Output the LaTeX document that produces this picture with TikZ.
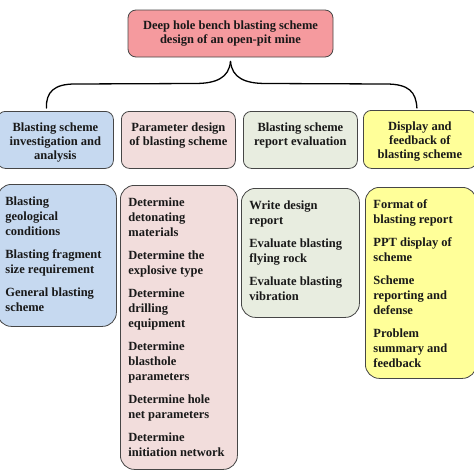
\documentclass[tikz,border=0pt]{standalone}
\usepackage{fontspec}
\setmainfont{Liberation Serif}
\usetikzlibrary{arrows}
\definecolor{titlered}{RGB}{245,154,158}
\definecolor{stepblue}{RGB}{198,217,240}
\definecolor{steppink}{RGB}{242,221,220}
\definecolor{stepgreen}{RGB}{232,237,224}
\definecolor{stepyellow}{RGB}{255,255,153}
\definecolor{edge}{RGB}{70,70,70}

\begin{document}
\begin{tikzpicture}[line cap=round,line join=round,x=1pt,y=-1pt,
  box/.style={draw=edge,line width=0.8pt,rounded corners=8pt,text=black!90,
    font=\fontsize{12.5}{14}\selectfont\bfseries,anchor=north west},
  head/.style={box,inner xsep=4pt,inner ysep=11pt},
  list/.style={box,rounded corners=14pt,inner xsep=8pt,inner ysep=12pt,
    font=\fontsize{12.5}{15}\selectfont\bfseries}]
\useasboundingbox (0,0) rectangle (474,474);
% title
\node [box,anchor=center,fill=titlered,minimum width=205pt,minimum height=47pt,align=center,inner sep=0pt]
  (title) at (230.5,33.5) {Deep hole bench blasting scheme\\design of an open-pit mine};
% second row
\node [head,fill=stepblue] (survey) at (-3,111)
  {\parbox[c][35pt][t]{108pt}{\centering Blasting scheme\\investigation and\\analysis}};
\node [head,fill=steppink] (param) at (121,111)
  {\parbox[c][35pt][t]{106pt}{\centering Parameter design\\of blasting scheme}};
\node [head,fill=stepgreen] (report) at (243,111)
  {\parbox[c][35pt][t]{106pt}{\centering Blasting scheme\\report evaluation}};
\node [head,fill=stepyellow] (display) at (363,110)
  {\parbox[c][36pt][t]{105pt}{\centering Display and\\feedback of\\blasting scheme}};
% third row
\node [list,fill=stepblue] (surveylist) at (-3,184)
  {\parbox[c][118pt][t]{103pt}{Blasting\\geological\\conditions\\[8pt]
   Blasting fragment\\size requirement\\[8pt]General blasting\\scheme}};
\node [list,fill=steppink] (paramlist) at (120,185)
  {\parbox[c][260pt][t]{101pt}{Determine\\detonating\\materials\\[8pt]
   Determine the\\explosive type\\[8pt]Determine\\drilling\\equipment\\[8pt]
   Determine\\blasthole\\parameters\\[8pt]Determine hole\\net parameters\\[8pt]
   Determine\\initiation network}};
\node [list,fill=stepgreen] (reportlist) at (241,188)
  {\parbox[c][105pt][t]{102pt}{Write design\\report\\[8pt]Evaluate blasting\\flying rock\\[8pt]
   Evaluate blasting\\vibration}};
\node [list,fill=stepyellow] (displaylist) at (365,187)
  {\parbox[c][167pt][t]{95pt}{Format of\\blasting report\\[8pt]PPT display of\\scheme\\[8pt]
   Scheme\\reporting and\\defense\\[8pt]Problem\\summary and\\feedback}};
% brace
\draw [line width=1.3pt] ([yshift=-4pt]title.south) .. controls (229,78) and (216,83.5) .. (195,83.5)
  -- (75,84) .. controls (54,84) and (46,92) .. ([xshift=-9pt,yshift=3pt]survey.north);
\draw [line width=1.3pt] ([yshift=-4pt]title.south) .. controls (232,78) and (245,83.5) .. (266,83.5)
  -- (386,84) .. controls (409,84) and (416,92) .. ([xshift=-3pt,yshift=2pt]display.north);
\end{tikzpicture}
\end{document}
